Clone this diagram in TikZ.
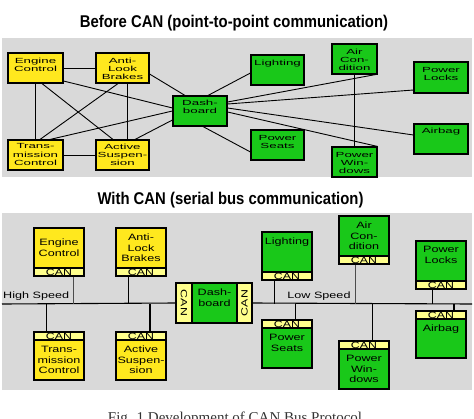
\documentclass[tikz,border=0pt]{standalone}
\usepackage{fontspec}
\setmainfont{Liberation Sans}
\newfontfamily\topf[FakeStretch=1.8]{Liberation Sans}
\newfontfamily\botf[FakeStretch=1.37]{Liberation Sans}
\newfontfamily\titlef[FakeStretch=0.875]{Liberation Sans Bold}
\newfontfamily\capf{Liberation Serif}
\definecolor{ygold}{RGB}{255,232,30}
\definecolor{ycan}{RGB}{255,255,140}
\definecolor{ggreen}{RGB}{25,200,25}
\definecolor{pgray}{RGB}{217,217,217}
\tikzset{
  panel/.style={fill=pgray},
  ttl/.style={font=\titlef\fontsize{17}{20}\selectfont, inner sep=0},
  tbox/.style={draw=black, line width=1.1pt, inner sep=0},
  ytop/.style={tbox, fill=ygold},
  gtop/.style={tbox, fill=ggreen},
  ttxt/.style={font=\topf\fontsize{7.4}{8.3}\selectfont, align=center, inner sep=0, anchor=north, yshift=-5.3pt},
  btxt/.style={font=\botf\fontsize{9.2}{10.7}\selectfont, align=center, inner sep=0},
  wire/.style={draw=black, line width=0.9pt},
  bbody/.style={draw=black, line width=1.1pt, inner sep=0, minimum width=50pt, minimum height=40pt, font=\botf\fontsize{9.2}{10.7}\selectfont, align=center},
  ybody/.style={bbody, fill=ygold},
  gbody/.style={bbody, fill=ggreen},
  canbox/.style={draw=black, line width=1.1pt, fill=ycan, inner sep=0, minimum width=50pt, minimum height=8pt, font=\botf\fontsize{9}{9}\selectfont},
  bus/.style={draw=black, line width=1.1pt},
  drop/.style={draw=black, line width=1.1pt},
  thindrop/.style={draw=black!70, line width=0.7pt},
}
\begin{document}
\begin{tikzpicture}[x=1pt,y=-1pt]
\useasboundingbox (0,0) rectangle (474,418);
% panels
\fill[panel] (2,38) rectangle (472,177);
\fill[panel] (2,213) rectangle (472,390);
% titles
\node[ttl] (t1) at (234,23) {Before CAN (point-to-point communication)};
\node[ttl] (t2) at (230.5,200) {With CAN (serial bus communication)};

% ---------- top: point to point ----------
\node[ytop, minimum width=55pt, minimum height=30pt] (eng) at (35.5,68) {};
\node[ytop, minimum width=53pt, minimum height=30pt] (abs) at (122.5,68) {};
\node[ytop, minimum width=55pt, minimum height=30pt] (trans) at (35.5,155) {};
\node[ytop, minimum width=53pt, minimum height=30pt] (act) at (122.5,155) {};
\node[gtop, minimum width=54pt, minimum height=30pt] (dash) at (200,111) {};
\node[gtop, minimum width=53pt, minimum height=30pt] (light) at (277.5,70) {};
\node[gtop, minimum width=45pt, minimum height=30pt] (air) at (354.5,59) {};
\node[gtop, minimum width=54pt, minimum height=31pt] (locks) at (441,77.5) {};
\node[gtop, minimum width=54pt, minimum height=30pt] (airbag) at (441,139) {};
\node[gtop, minimum width=53pt, minimum height=30pt] (seats) at (277.5,145) {};
\node[gtop, minimum width=45pt, minimum height=30pt] (win) at (354.5,162) {};

\node[ttxt] (eng-t) at (eng.north) {Engine\\Control};
\node[ttxt] (abs-t) at (abs.north) {Anti-\\Look\\Brakes};
\node[ttxt, yshift=1.3pt] (trans-t) at (trans.north) {Trans-\\mission\\Control};
\node[ttxt, yshift=1.3pt] (act-t) at (act.north) {Active\\Suspen-\\sion};
\node[ttxt, yshift=1pt] (dash-t) at (dash.north) {Dash-\\board};
\node[ttxt] (light-t) at (light.north) {Lighting};
\node[ttxt] (air-t) at (air.north) {Air\\Con-\\dition};
\node[ttxt] (locks-t) at (locks.north) {Power\\Locks};
\node[ttxt, yshift=1.3pt] (airbag-t) at (airbag.north) {Airbag};
\node[ttxt] (seats-t) at (seats.north) {Power\\Seats};
\node[ttxt] (win-t) at (win.north) {Power\\Win-\\dows};

% connectors
\draw[wire] (eng.east) -- (abs.west);
\draw[wire] (eng.south) -- (trans.north);
\draw[wire] ([xshift=4.5pt]abs.south) -- ([xshift=4.5pt]act.north);
\draw[wire] (trans.east) -- (act.west);
\draw[wire] ([xshift=6.5pt]eng.south) -- ([xshift=-9.5pt]act.north);
\draw[wire] ([xshift=-4.5pt]abs.south) -- ([xshift=4.5pt]trans.north);
\draw[wire] ([yshift=-13pt]eng.east) -- ([yshift=3pt]dash.west);
\draw[wire] ([yshift=-6pt]abs.east) -- ([xshift=-15pt]dash.north);
\draw[wire] ([xshift=14.5pt]trans.north) -- (dash.west);
\draw[wire] ([xshift=12.5pt]act.north) -- ([yshift=-9pt]dash.west);
\draw[wire] ([xshift=8pt]dash.north) -- ([yshift=-3pt]light.west);
\draw[wire] ([yshift=9pt]dash.east) -- ([xshift=-2pt]air.south east);
\draw[wire] ([yshift=7pt]dash.east) -- ([yshift=-12.5pt]locks.west);
\draw[wire] ([yshift=3pt]dash.east) -- ([yshift=4pt]airbag.west);
\draw[wire] ([yshift=-1pt]dash.east) -- (win.north east);
\draw[wire] ([xshift=3pt]dash.south) -- ([yshift=-7pt]seats.west);
\draw[wire] (air.south) -- (win.north);

% ---------- bottom: CAN bus ----------
\node[ybody] (beng) at (59,248) {Engine\\Control};
\node[canbox] (beng-c) at (59,272) {CAN};
\node[ybody] (babs) at (141,248) {Anti-\\Lock\\Brakes};
\node[canbox] (babs-c) at (141,272) {CAN};
\node[canbox] (btrans-c) at (59,336) {CAN};
\node[ybody] (btrans) at (59,360) {Trans-\\mission\\Control};
\node[canbox] (bact-c) at (141,336) {CAN};
\node[ybody] (bact) at (141,360) {Active\\Suspen-\\sion};

\node[gbody] (blight) at (287,252) {};
\node[btxt, anchor=north] (blight-t) at ([yshift=-6pt]blight.north) {Lighting};
\node[canbox] (blight-c) at (287,276) {CAN};
\node[gbody] (bair) at (364,236) {Air\\Con-\\dition};
\node[canbox] (bair-c) at (364,260) {CAN};
\node[gbody] (blocks) at (441,261) {};
\node[btxt, anchor=north] (blocks-t) at ([yshift=-6pt]blocks.north) {Power\\Locks};
\node[canbox] (blocks-c) at (441,285) {CAN};
\node[canbox] (bseats-c) at (287,324) {CAN};
\node[gbody] (bseats) at (287,348) {};
\node[btxt, anchor=north] (bseats-t) at ([yshift=-6.5pt]bseats.north) {Power\\Seats};
\node[canbox] (bwin-c) at (364,345) {CAN};
\node[gbody] (bwin) at (364,369) {Power\\Win-\\dows};
\node[canbox] (bairbag-c) at (441,315) {CAN};
\node[gbody, minimum height=39pt] (bairbag) at (441,338.5) {};
\node[btxt, anchor=north] (bairbag-t) at ([yshift=-6pt]bairbag.north) {Airbag};

\node[canbox, minimum width=16pt, minimum height=40pt] (bdl) at (184,303) {};
\node[font=\botf\fontsize{9}{9}\selectfont, rotate=-90, inner sep=0] (bdl-t) at (bdl.center) {CAN};
\node[gbody, minimum width=45pt] (bdash) at (214.5,303) {};
\node[btxt, anchor=north] (bdash-t) at ([yshift=-6pt]bdash.north) {Dash-\\board};
\node[canbox, minimum width=15pt, minimum height=40pt] (bdr) at (244.5,303) {};
\node[font=\botf\fontsize{9}{9}\selectfont, rotate=90, inner sep=0] (bdr-t) at (bdr.center) {CAN};

% bus
\coordinate (bl) at (2,304);
\coordinate (br) at (472,304);
\draw[bus] (bl) -- (bdl.west);
\draw[bus] (bdr.east) -- (br);
\node[btxt, anchor=west] (hs) at (3,296.5) {High Speed};
\node[btxt] (ls) at (319,296.5) {Low Speed};

% drops
\coordinate (d1) at ([xshift=14pt]beng-c.south);
\coordinate (d2) at ([xshift=-12.7pt]babs-c.south);
\coordinate (d3) at ([xshift=-12.3pt]btrans-c.north);
\coordinate (d4) at ([xshift=9pt]bact-c.north);
\coordinate (d5) at ([xshift=-12.7pt]blight-c.south);
\coordinate (d6) at ([xshift=-9pt]bair-c.south);
\coordinate (d7) at ([xshift=-8.7pt]blocks-c.south);
\coordinate (d8) at ([xshift=8.7pt]bseats-c.north);
\coordinate (d9) at ([xshift=8.7pt]bwin-c.north);
\coordinate (d10) at ([xshift=13pt]bairbag-c.north);
\draw[thindrop] (d1) -- (d1 |- bl);
\draw[drop] (d2) -- (d2 |- bl);
\draw[drop] (d3) -- (d3 |- bl);
\draw[drop] (d4) -- (d4 |- bl);
\draw[drop] (d5) -- (d5 |- bl);
\draw[thindrop] (d6) -- (d6 |- bl);
\draw[drop] (d7) -- (d7 |- bl);
\draw[drop] (d8) -- (d8 |- bl);
\draw[drop] (d9) -- (d9 |- bl);
\draw[drop] (d10) -- (d10 |- bl);

% caption (cut by the page edge, as in the reference)
\begin{scope}
\clip (0,0) rectangle (474,418);
\node[font=\capf\fontsize{15}{18}\selectfont, text=black!80, anchor=base, inner sep=0] (cap) at (235,422) {Fig. 1 Development of CAN Bus Protocol};
\end{scope}
\end{tikzpicture}
\end{document}
